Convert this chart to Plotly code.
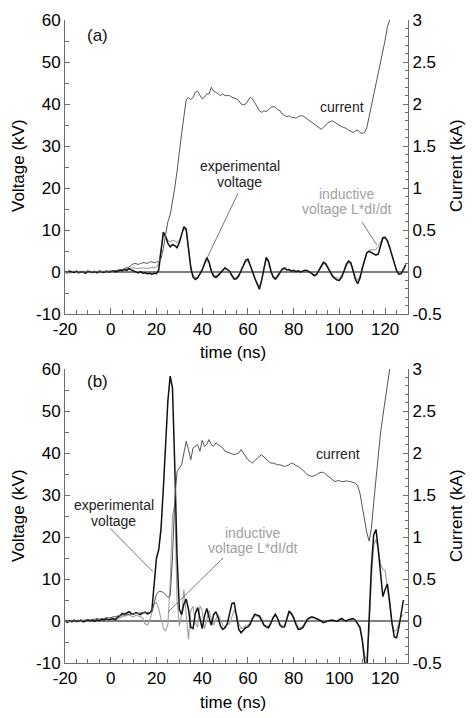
import plotly.graph_objects as go

# ---------------- data ----------------
# time axis (ns)
time_a = list(range(-20, 130))   # panel (a): -20 .. 129
time_b = list(range(-20, 129))   # panel (b): -20 .. 128

# Panel (a) experimental voltage (kV)
exp_a = [0.1, -0.2, 0.2, 0.0, -0.1, 0.2, -0.2, 0.1, 0.0, -0.3, 0.2, 0.0, -0.1, 0.1, -0.2, 0.2, 0.0, -0.1, 0.2, 0.0,
         0.1, 0.3, 0.0, 0.2, 0.4, 0.3, 0.6, 0.4, 0.8, 0.5, 0.3, 0.0, -0.2, 0.1, -0.3, -0.2, -0.4, -0.3, -0.5, -0.3, -0.4,
         0.5, 5.0, 9.5, 8.5, 6.8, 6.0, 6.5, 6.3, 5.8, 7.0, 8.8, 10.8, 10.2, 5.5, 1.0, -1.2, -1.8, -1.4, -0.6,
         0.5, 2.0, 3.4, 2.4, 0.2, -1.0, -1.3, -0.8, -0.2, 0.6, 1.0, 0.6, 0.2, -0.9, -1.7, -1.6, -0.9, 0.3, 1.6, 2.8,
         3.1, 1.8, 0.1, -1.5, -3.0, -4.1, -2.0, 1.2, 3.5, 2.6, 0.3, -1.2, -1.7, -1.0, -0.2, 0.7, 1.0, 0.5, 0.6, 0.2,
         0.4, 0.1, 0.3, 0.0, 0.2, 0.4, 0.3, 0.0, -0.4, -0.9, -0.6, 0.4, 1.5, 2.3, 2.0, 1.0, -0.2, -1.0, -1.5, -1.9,
         -2.0, -1.2, 0.2, 1.8, 2.6, 2.2, 0.3, -1.8, -2.8, -1.5, 0.8, 3.0, 4.6, 4.9, 4.6, 4.4, 4.0, 4.3, 6.5, 8.1,
         8.2, 7.4, 5.8, 3.8, 1.8, 0.3, -0.5, -0.4, 0.6, 1.8]

# Panel (a) inductive voltage L*dI/dt (kV)
ind_a = [0.0, 0.1, -0.1, 0.1, 0.0, -0.1, 0.1, 0.0, 0.1, -0.1, 0.0, 0.1, 0.0, -0.1, 0.1, 0.0, 0.1, 0.0, 0.1, 0.1,
         0.2, 0.2, 0.3, 0.3, 0.4, 0.5, 0.6, 0.6, 0.8, 0.9, 1.0, 0.9, 0.8, 0.9, 1.0, 0.9, 0.8, 1.0, 1.1, 1.0, 1.2,
         2.0, 6.0, 8.8, 8.4, 7.5, 7.2, 7.6, 7.4, 7.0, 7.6, 9.0, 10.4, 9.8, 5.6, 1.5, -0.8, -1.4, -1.2, -0.5,
         0.6, 1.8, 2.8, 2.1, 0.4, -0.6, -1.0, -0.6, 0.0, 0.5, 0.8, 0.5, 0.0, -0.7, -1.4, -1.3, -0.6, 0.4, 1.4, 2.4,
         2.7, 1.6, 0.1, -1.3, -2.6, -3.4, -1.8, 1.0, 3.0, 2.3, 0.4, -0.9, -1.4, -0.8, -0.1, 0.5, 0.7, 0.5, 0.4, 0.3,
         0.3, 0.2, 0.2, 0.1, 0.2, 0.3, 0.2, 0.0, -0.3, -0.7, -0.5, 0.3, 1.2, 1.9, 1.8, 0.9, -0.1, -0.8, -1.2, -1.5,
         -1.6, -0.9, 0.2, 1.5, 2.2, 1.9, 0.4, -1.2, -2.0, -0.8, 1.2, 3.2, 4.6, 5.2, 5.3, 5.2, 5.4, 6.0, 7.2, 8.3,
         8.4, 7.5, 5.9, 3.9, 1.8, 0.4, -0.3, -0.2, 0.5, 1.4]

# Panel (a) current (kA), -20 .. 122 ns
cur_a = [0.00, 0.01, -0.01, 0.00, 0.01, 0.00, -0.01, 0.01, 0.00, 0.00, 0.01, -0.01, 0.00, 0.01, 0.00, 0.01, 0.00, 0.01, 0.00, 0.01,
         0.01, 0.01, 0.02, 0.02, 0.03, 0.03, 0.04, 0.05, 0.06, 0.08, 0.10, 0.10, 0.09, 0.10, 0.11, 0.11, 0.10, 0.12, 0.12, 0.11, 0.12,
         0.12, 0.16, 0.28, 0.45, 0.60, 0.68, 0.82, 1.00, 1.20, 1.45, 1.65, 1.85, 2.05, 2.08, 2.05, 2.08, 2.14, 2.15, 2.10,
         2.06, 2.08, 2.12, 2.12, 2.20, 2.15, 2.14, 2.12, 2.10, 2.12, 2.10, 2.10, 2.10, 2.08, 2.07, 2.06, 2.04, 2.00, 1.99, 2.00,
         2.04, 2.08, 2.06, 2.02, 1.97, 1.92, 1.90, 1.92, 1.91, 1.93, 1.96, 1.97, 1.96, 1.93, 1.92, 1.88, 1.86, 1.85, 1.86, 1.84,
         1.84, 1.83, 1.85, 1.86, 1.86, 1.84, 1.82, 1.80, 1.78, 1.76, 1.74, 1.71, 1.70, 1.72, 1.75, 1.78, 1.79, 1.80, 1.78, 1.76,
         1.75, 1.73, 1.72, 1.71, 1.69, 1.67, 1.66, 1.68, 1.69, 1.66, 1.65, 1.66, 1.72, 1.85, 1.98, 2.12, 2.24, 2.36, 2.48, 2.62,
         2.76, 2.92, 3.00]

# Panel (b) experimental voltage (kV)
exp_b = [0.0, -0.3, 0.1, -0.2, 0.2, -0.1, 0.0, 0.2, -0.2, 0.1, 0.3, 0.0, 0.2, -0.1, 0.3, 0.1, 0.4, 0.2, 0.5, 0.3,
         0.4, 0.6, 0.3, 0.9, 1.2, 1.8, 1.6, 2.0, 2.2, 1.8, 1.6, 2.0, 1.8, 1.5, 1.9, 2.1, 1.7, 1.9,
         2.6, 9.5, 15.0, 17.0, 22.0, 31.5, 42.5, 52.5, 58.3, 55.5, 37.0, 15.5, 2.8,
         1.5, 4.0, 5.2, 2.8, -1.5, -1.8, 1.8, 3.2, 0.5, -1.8, 1.2, 3.0, 0.8, -1.0, 1.5, 2.2, 0.8, -1.2, -2.0, -1.6,
         -0.6, 1.5, 4.2, 4.3, 1.2, -2.0, -2.8, -2.3,
         -1.6, -1.4, -0.8, 0.6, 1.6, 1.4, 1.2, 0.2, -1.0, -1.4, -1.6, -0.6, 0.8, 1.6, 0.6, -1.0, -1.5, -1.4, 0.5, 2.4,
         1.8, 0.8, -0.8, -2.0, -1.9, -1.6, -0.6, 0.4, 0.8, 1.0, 0.8, 0.6, 0.3, 0.0, -0.4, -0.2, 0.0, 0.2, 0.2, 0.0,
         -0.1, 0.3, 0.6, 0.2, 0.0, 0.3, 0.5, 0.6, 0.2, -0.6, -1.5, -4.5, -9.5, -11.8, 0.5, 13.0, 20.5, 21.8, 17.0, 10.5,
         5.8, 7.5, 8.8, 4.5, -0.5, -3.8, -4.0, -1.5, 2.0, 5.0]

# Panel (b) inductive voltage L*dI/dt (kV)
ind_b = [0.0, -0.2, 0.1, -0.1, 0.1, -0.2, 0.0, 0.1, -0.1, 0.0, 0.2, -0.1, 0.1, 0.0, 0.2, 0.0, 0.3, 0.1, 0.3, 0.2,
         0.3, 0.4, 0.2, 0.6, 0.8, 1.0, 1.2, 1.3, 1.5, 1.2, 1.0, 1.4, 1.2, 1.0, 0.6, -0.6, -1.0, 0.0,
         2.0, 4.0, 4.4, 2.8, 0.5, -1.6, -2.4, -0.8, 9.0, 25.0, 27.5, 5.0, -1.2,
         1.5, 7.5, 0.5, -4.4, 2.5, 3.5, -0.5, -1.5, 3.6, 2.5, -1.8, 0.5, 2.5, 0.5, -1.0, 0.5, 1.5, 0.2, -1.0, -1.4,
         -0.8, -0.6, 0.8, 2.6, 1.6, -0.6, -1.8, -1.6,
         -1.2, -1.0, -0.2, 0.8, 1.2, 1.2, 0.8, 0.0, -0.8, -1.2, -1.2, -0.4, 0.6, 1.2, 0.6, -0.6, -1.2, -1.0, 0.4, 1.8,
         1.6, 0.6, -0.6, -1.6, -1.6, -1.2, -0.4, 0.4, 0.6, 0.8, 0.6, 0.5, 0.2, 0.0, -0.3, -0.2, 0.0, 0.1, 0.2, 0.0,
         -0.1, 0.2, 0.4, 0.2, 0.0, 0.2, 0.4, 0.3, 0.0, -0.8, -2.0, -4.5, -8.0, -9.5, -2.0, 10.0, 18.0, 19.5, 17.0, 13.5,
         12.3, 12.0, 8.0, 3.5, -0.5, -2.5, -2.2, -0.5, 1.0, 1.5]

# Panel (b) current (kA), -20 .. 122 ns
cur_b = [0.00, 0.01, -0.01, 0.00, 0.01, 0.00, 0.01, 0.00, 0.01, 0.01, 0.02, 0.01, 0.02, 0.02, 0.03, 0.02, 0.03, 0.03, 0.04, 0.04,
         0.04, 0.05, 0.05, 0.06, 0.06, 0.07, 0.07, 0.08, 0.08, 0.08, 0.09, 0.09, 0.09, 0.10, 0.10, 0.10, 0.10, 0.10,
         0.11, 0.20, 0.32, 0.35, 0.35, 0.34, 0.31, 0.28, 0.30, 0.75, 1.45, 1.78, 1.82,
         1.86, 2.00, 2.14, 2.04, 1.92, 2.06, 2.08, 2.10, 2.02, 2.15, 2.08, 2.10, 2.16, 2.10, 2.08, 2.12, 2.10, 2.08, 2.06, 2.02,
         2.01, 2.00, 1.99, 1.98, 1.99, 2.00, 2.04, 2.00,
         1.96, 1.92, 1.90, 1.88, 1.91, 1.94, 1.96, 1.98, 1.95, 1.92, 1.90, 1.88, 1.88, 1.87, 1.86, 1.86, 1.85, 1.84, 1.85, 1.86,
         1.88, 1.87, 1.85, 1.84, 1.82, 1.80, 1.77, 1.74, 1.73, 1.72, 1.73, 1.74, 1.76, 1.77, 1.77, 1.75, 1.72, 1.70, 1.68, 1.66,
         1.67, 1.67, 1.66, 1.66, 1.67, 1.66, 1.66, 1.65, 1.64, 1.61, 1.52, 1.36, 1.20, 1.05, 0.95, 1.10, 1.41, 1.72, 2.00, 2.24,
         2.44, 2.64, 2.84, 3.00]

# tick labels
x_tickvals = [-20, 0, 20, 40, 60, 80, 100, 120]
x_ticktext = ["-20", "0", "20", "40", "60", "80", "100", "120"]
v_tickvals = [-10, 0, 10, 20, 30, 40, 50, 60]
v_ticktext = ["-10", "0", "10", "20", "30", "40", "50", "60"]
i_tickvals = [-0.5, 0, 0.5, 1, 1.5, 2, 2.5, 3]
i_ticktext = ["-0.5", "0", "0.5", "1", "1.5", "2", "2.5", "3"]

# ---------------- styling ----------------
FONT = "Liberation Sans, Arial, sans-serif"
AX = "#6e6e6e"
BLACK = "#111111"
IND = "#a0a0a0"
CUR = "#555555"

W, H = 474, 718
ML, MR, MT, MB = 65, 66, 20, 55
PW, PH = W - ML - MR, H - MT - MB


def px(xp):
    return (xp - ML) / PW


def py(yp):
    return 1 - (yp - MT) / PH


top_dom = [py(314), py(20)]
bot_dom = [py(663), py(369)]

fig = go.Figure()

for (t, cur, ind, exp, xa, ya, ya2) in [
    (time_a, cur_a, ind_a, exp_a, "x", "y", "y2"),
    (time_b, cur_b, ind_b, exp_b, "x2", "y3", "y4"),
]:
    fig.add_trace(go.Scatter(x=t[:len(cur)], y=cur, xaxis=xa, yaxis=ya2, mode="lines",
                             line=dict(color=CUR, width=1), showlegend=False))
    fig.add_trace(go.Scatter(x=t, y=ind, xaxis=xa, yaxis=ya, mode="lines",
                             line=dict(color=IND, width=1.1), showlegend=False))
    fig.add_trace(go.Scatter(x=t, y=exp, xaxis=xa, yaxis=ya, mode="lines",
                             line=dict(color=BLACK, width=1.5), showlegend=False))

tickfont = dict(family=FONT, size=17, color="#000")


def xax(anchor):
    return dict(domain=[0, 1], anchor=anchor, range=[-20, 130], tickmode="array",
                tickvals=x_tickvals, ticktext=x_ticktext, ticks="inside", ticklen=6,
                tickcolor=AX, showline=True, linecolor=AX, linewidth=1, showgrid=False,
                zeroline=False, tickfont=tickfont,
                minor=dict(ticks="inside", ticklen=4, tickmode="linear", tick0=0, dtick=5,
                           tickcolor=AX, showgrid=False))


def vax(dom, anchor):
    return dict(domain=dom, anchor=anchor, range=[-10, 60], tickmode="array",
                tickvals=v_tickvals, ticktext=v_ticktext, ticks="inside", ticklen=5,
                tickcolor=AX, showline=True, linecolor=AX, linewidth=1, showgrid=False,
                zeroline=True, zerolinecolor="#808080", zerolinewidth=1.5, tickfont=tickfont,
                minor=dict(ticks="inside", ticklen=4, tickmode="linear", tick0=0, dtick=5,
                           tickcolor=AX, showgrid=False))


def iax(over, anchor):
    return dict(overlaying=over, anchor=anchor, side="right", range=[-0.5, 3], tickmode="array",
                tickvals=i_tickvals, ticktext=i_ticktext, ticks="inside", ticklen=5,
                tickcolor=AX, showline=True, linecolor=AX, linewidth=1, showgrid=False,
                zeroline=False, tickfont=tickfont,
                minor=dict(ticks="inside", ticklen=3, tickmode="linear", tick0=0, dtick=0.1,
                           tickcolor=AX, showgrid=False))


fig.update_layout(
    width=W, height=H, margin=dict(l=ML, r=MR, t=MT, b=MB),
    paper_bgcolor="white", plot_bgcolor="white",
    font=dict(family=FONT, size=14, color="#000"),
    xaxis=xax("y"), yaxis=vax(top_dom, "x"), yaxis2=iax("y", "x"),
    xaxis2=xax("y3"), yaxis3=vax(bot_dom, "x2"), yaxis4=iax("y3", "x2"),
)

ann = []


def txt(text, x, y, xref, yref, size=14, color="#222", angle=0):
    ann.append(dict(text=text, x=x, y=y, xref=xref, yref=yref, showarrow=False,
                    xanchor="center", yanchor="middle", textangle=angle,
                    font=dict(family=FONT, size=size, color=color)))


# panel labels / series labels (data coordinates)
txt("(a)", -6.0, 56.4, "x", "y", size=17, color="#111")
txt("current", 101.1, 39.3, "x", "y")
txt("experimental", 56.5, 25.2, "x", "y")
txt("voltage", 56.5, 21.4, "x", "y")
txt("inductive", 103.3, 18.6, "x", "y", color=IND)
txt("voltage L*dI/dt", 103.3, 15.0, "x", "y", color=IND)

txt("(b)", -6.0, 57.1, "x2", "y3", size=17, color="#111")
txt("current", 99.4, 39.8, "x2", "y3")
txt("experimental", 1.4, 27.6, "x2", "y3")
txt("voltage", 1.4, 23.8, "x2", "y3")
txt("inductive", 62.2, 21.0, "x2", "y3", color=IND)
txt("voltage L*dI/dt", 62.2, 17.4, "x2", "y3", color=IND)

# axis titles (paper coordinates)
for yc in (166, 516):
    txt("Voltage (kV)", px(18), py(yc), "paper", "paper", size=17, color="#000", angle=-90)
    txt("Current (kA)", px(456), py(yc), "paper", "paper", size=17, color="#000", angle=-90)
txt("time (ns)", px(233), py(352), "paper", "paper", size=17, color="#000")
txt("time (ns)", px(233), py(702), "paper", "paper", size=17, color="#000")

fig.update_layout(annotations=ann)

# leader lines
shapes = [
    dict(type="line", xref="x", yref="y", x0=55.7, y0=18.8, x1=42.1, y1=3.3),
    dict(type="line", xref="x", yref="y", x0=109.9, y0=11.9, x1=116.4, y1=6.4),
    dict(type="line", xref="x2", yref="y3", x0=-0.3, y0=22.1, x1=18.5, y1=11.7),
    dict(type="line", xref="x2", yref="y3", x0=49.1, y0=15.0, x1=25.0, y1=2.1),
]
for s in shapes:
    s["line"] = dict(color="#555", width=0.8)
fig.update_layout(shapes=shapes)

fig.write_html("out.html")
